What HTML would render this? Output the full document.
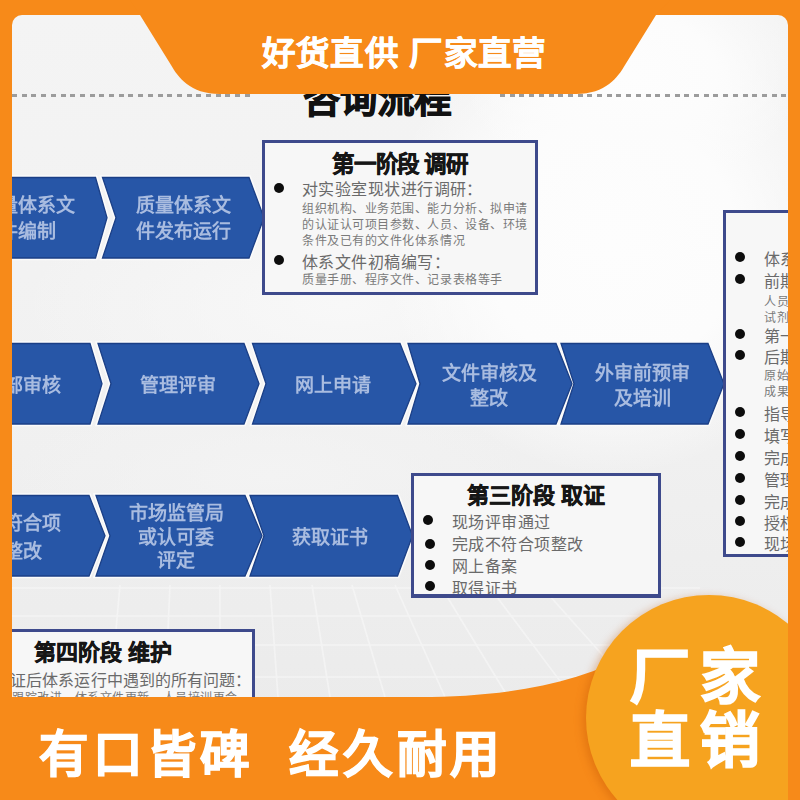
<!DOCTYPE html>
<html lang="zh-CN">
<head>
<meta charset="utf-8">
<style>
html,body{margin:0;padding:0;}
body{width:800px;height:800px;position:relative;overflow:hidden;background:#f78a19;font-family:"Liberation Sans",sans-serif;}
.abs{position:absolute;}
#inner{position:absolute;left:12px;top:15px;width:776px;height:700px;background:radial-gradient(ellipse 170px 120px at 620px 60px,#fdfdfd 0%,#fcfcfc 50%,rgba(252,252,252,0) 100%),radial-gradient(ellipse 230px 230px at 600px 230px,#fdfdfd 0%,#fcfcfc 55%,rgba(250,250,250,0) 100%),radial-gradient(ellipse 320px 130px at 330px 290px,#f8f8f8 0%,rgba(247,247,247,0) 100%),radial-gradient(ellipse 260px 90px at 260px 460px,#f3f3f3 0%,rgba(243,243,243,0) 100%),linear-gradient(180deg,#f4f4f4 0%,#f1f1f1 55%,#ebebeb 100%);border-radius:10px 10px 0 0;overflow:hidden;}
.chev{position:absolute;color:#a9bce0;font-weight:bold;filter:blur(0.5px);font-size:19px;line-height:26px;text-align:center;white-space:nowrap;}
.chev .tx{position:absolute;left:0;right:0;top:50%;transform:translateY(-50%);}
.box{position:absolute;border:3.5px solid #3e4a8c;box-sizing:border-box;background:#f7f7f7;}
.ttl{position:absolute;font-weight:bold;color:#161616;white-space:nowrap;-webkit-text-stroke:0.5px #161616;}
.bl{position:absolute;width:10px;height:10px;border-radius:50%;background:#0d0d0d;}
.t17{position:absolute;font-size:16px;letter-spacing:0.45px;line-height:20px;color:#6a6a6a;white-space:nowrap;}
.t12{position:absolute;font-size:12px;letter-spacing:0.55px;line-height:16px;color:#7a7a7a;white-space:nowrap;}
.wt{color:#fff;-webkit-text-stroke:1.1px #fff;}
</style>
</head>
<body>
<div id="inner"></div>

<svg class="abs" style="left:0;top:0" width="800" height="800" viewBox="0 0 800 800">
<g stroke="#fafafa" stroke-width="1.6" opacity="0.55">
<line x1="12" y1="588" x2="700" y2="588"/><line x1="12" y1="616" x2="700" y2="616"/><line x1="12" y1="645" x2="700" y2="645"/><line x1="12" y1="677" x2="700" y2="677"/>
<line x1="120" y1="585" x2="110" y2="697"/><line x1="170" y1="585" x2="165" y2="697"/><line x1="220" y1="585" x2="220" y2="697"/>
<line x1="270" y1="585" x2="278" y2="697"/><line x1="312" y1="585" x2="330" y2="697"/><line x1="352" y1="585" x2="385" y2="697"/><line x1="395" y1="585" x2="445" y2="697"/><line x1="440" y1="585" x2="508" y2="697"/><line x1="488" y1="585" x2="572" y2="697"/><line x1="540" y1="585" x2="640" y2="697"/>
</g></svg>
<!-- dotted line -->
<div class="abs" style="left:12px;top:94px;width:240px;height:3px;background:repeating-linear-gradient(90deg,#9c9c9c 0 5px,transparent 5px 9.7px);"></div>
<div class="abs" style="left:500px;top:94px;width:288px;height:3px;background:repeating-linear-gradient(90deg,#9c9c9c 0 5px,transparent 5px 9.7px);"></div>

<!-- title -->
<div class="ttl" style="left:303px;top:77px;font-size:37.5px;line-height:44px;color:#111;-webkit-text-stroke:1px #111;">咨询流程</div>

<!-- banner -->
<svg class="abs" style="left:0;top:0" width="800" height="100" viewBox="0 0 800 100">
<path d="M130 0 L140 15 L171 65 C178 77 190 94 220 94 L576 94 C606 94 618 77 625 65 L656 15 L670 0 Z" fill="#f78a19"/>
</svg>
<div class="ttl wt" style="-webkit-text-stroke:0.6px #fff;left:262px;top:33.5px;font-size:33.5px;line-height:40px;letter-spacing:1.2px;">好货直供 厂家直营</div>

<!-- chevron shapes -->
<svg class="abs" style="left:0;top:0" width="800" height="800" viewBox="0 0 800 800">
<polygon points="-55,177.5 95.5,177.5 107,217.75 95.5,258 -55,258 -42,217.75" fill="none" stroke="#fbfbfb" stroke-width="4.5" stroke-linejoin="miter"/>
<polygon points="102.5,177.5 249,177.5 264,217.75 249,258 102.5,258 116,217.75" fill="none" stroke="#fbfbfb" stroke-width="4.5" stroke-linejoin="miter"/>
<polygon points="-59,343.5 90,343.5 102,383.75 90,424 -59,424 -46,383.75" fill="none" stroke="#fbfbfb" stroke-width="4.5" stroke-linejoin="miter"/>
<polygon points="98,343.5 244,343.5 259,383.75 244,424 98,424 111,383.75" fill="none" stroke="#fbfbfb" stroke-width="4.5" stroke-linejoin="miter"/>
<polygon points="252.5,343.5 400,343.5 416,383.75 400,424 252.5,424 266,383.75" fill="none" stroke="#fbfbfb" stroke-width="4.5" stroke-linejoin="miter"/>
<polygon points="408,343.5 556,343.5 572,383.75 556,424 408,424 420,383.75" fill="none" stroke="#fbfbfb" stroke-width="4.5" stroke-linejoin="miter"/>
<polygon points="561,343.5 708,343.5 724,383.75 708,424 561,424 574,383.75" fill="none" stroke="#fbfbfb" stroke-width="4.5" stroke-linejoin="miter"/>
<polygon points="-58,495.5 89,495.5 105,535.75 89,576 -58,576 -45,535.75" fill="none" stroke="#fbfbfb" stroke-width="4.5" stroke-linejoin="miter"/>
<polygon points="96,495.5 245,495.5 262,535.75 245,576 96,576 110,535.75" fill="none" stroke="#fbfbfb" stroke-width="4.5" stroke-linejoin="miter"/>
<polygon points="250,495.5 397.5,495.5 412.5,535.75 397.5,576 250,576 264,535.75" fill="none" stroke="#fbfbfb" stroke-width="4.5" stroke-linejoin="miter"/>
<polygon points="-55,177.5 95.5,177.5 107,217.75 95.5,258 -55,258 -42,217.75" fill="#2756a7" stroke="#1b3f86" stroke-width="1.3"/>
<polygon points="102.5,177.5 249,177.5 264,217.75 249,258 102.5,258 116,217.75" fill="#2756a7" stroke="#1b3f86" stroke-width="1.3"/>
<polygon points="-59,343.5 90,343.5 102,383.75 90,424 -59,424 -46,383.75" fill="#2756a7" stroke="#1b3f86" stroke-width="1.3"/>
<polygon points="98,343.5 244,343.5 259,383.75 244,424 98,424 111,383.75" fill="#2756a7" stroke="#1b3f86" stroke-width="1.3"/>
<polygon points="252.5,343.5 400,343.5 416,383.75 400,424 252.5,424 266,383.75" fill="#2756a7" stroke="#1b3f86" stroke-width="1.3"/>
<polygon points="408,343.5 556,343.5 572,383.75 556,424 408,424 420,383.75" fill="#2756a7" stroke="#1b3f86" stroke-width="1.3"/>
<polygon points="561,343.5 708,343.5 724,383.75 708,424 561,424 574,383.75" fill="#2756a7" stroke="#1b3f86" stroke-width="1.3"/>
<polygon points="-58,495.5 89,495.5 105,535.75 89,576 -58,576 -45,535.75" fill="#2756a7" stroke="#1b3f86" stroke-width="1.3"/>
<polygon points="96,495.5 245,495.5 262,535.75 245,576 96,576 110,535.75" fill="#2756a7" stroke="#1b3f86" stroke-width="1.3"/>
<polygon points="250,495.5 397.5,495.5 412.5,535.75 397.5,576 250,576 264,535.75" fill="#2756a7" stroke="#1b3f86" stroke-width="1.3"/>
</svg>
<!-- row 1 -->
<div class="chev" style="left:-55px;top:177px;width:162px;height:81px;">
  <div class="tx" style="margin-left:3px;margin-top:1px;">质量体系文<br>件编制</div>
</div>
<div class="chev" style="left:102px;top:177px;width:162px;height:81px;">
  <div class="tx" style="margin-left:1px;margin-top:1px;">质量体系文<br>件发布运行</div>
</div>

<!-- box 1 -->
<div class="box" style="left:262px;top:140px;width:276px;height:155px;"></div>
<div class="ttl" style="left:332px;top:149.5px;font-size:22.5px;line-height:30px;letter-spacing:-1.2px;">第一阶段 调研</div>
<div class="bl" style="left:274px;top:183px;"></div>
<div class="t17" style="left:302px;top:180px;">对实验室现状进行调研：</div>
<div class="t12" style="left:302px;top:201px;">组织机构、业务范围、能力分析、拟申请</div>
<div class="t12" style="left:302px;top:217px;">的认证认可项目参数、人员、设备、环境</div>
<div class="t12" style="left:302px;top:233px;">条件及已有的文件化体系情况</div>
<div class="bl" style="left:274px;top:255px;"></div>
<div class="t17" style="left:302px;top:252.5px;">体系文件初稿编写：</div>
<div class="t12" style="left:302px;top:272px;">质量手册、程序文件、记录表格等手</div>

<!-- row 2 -->
<div class="chev" style="left:-59px;top:343.5px;width:161px;height:81px;"><div class="tx" style="margin-left:2px;margin-top:2px;">内部审核</div></div>
<div class="chev" style="left:98px;top:343.5px;width:161px;height:81px;"><div class="tx" style="margin-left:-1px;margin-top:2px;">管理评审</div></div>
<div class="chev" style="left:252px;top:343.5px;width:164px;height:81px;"><div class="tx" style="margin-left:-2px;margin-top:2px;">网上申请</div></div>
<div class="chev" style="left:408px;top:343.5px;width:164px;height:81px;"><div class="tx" style="margin-left:-2px;margin-top:2px;line-height:25px;">文件审核及<br>整改</div></div>
<div class="chev" style="left:561px;top:343.5px;width:163px;height:81px;"><div class="tx" style="margin-left:0px;margin-top:2px;line-height:25px;">外审前预审<br>及培训</div></div>

<!-- right box -->
<div class="box" style="left:723px;top:210px;width:80px;height:347px;"></div>
<div class="bl" style="left:735px;top:252px;"></div><div class="t17" style="left:764px;top:249.5px;">体系文件</div>
<div class="bl" style="left:735px;top:274px;"></div><div class="t17" style="left:764px;top:271.5px;">前期准备</div>
<div class="t12" style="left:764px;top:294.0px;">人员培训</div>
<div class="t12" style="left:764px;top:310.0px;">试剂耗材</div>
<div class="bl" style="left:735px;top:329px;"></div><div class="t17" style="left:764px;top:326.5px;">第一次</div>
<div class="bl" style="left:735px;top:350px;"></div><div class="t17" style="left:764px;top:347.5px;">后期整改</div>
<div class="t12" style="left:764px;top:368.0px;">原始记录</div>
<div class="t12" style="left:764px;top:384.0px;">成果报告</div>
<div class="bl" style="left:735px;top:407px;"></div><div class="t17" style="left:764px;top:404.5px;">指导</div>
<div class="bl" style="left:735px;top:429px;"></div><div class="t17" style="left:764px;top:426.5px;">填写</div>
<div class="bl" style="left:735px;top:451px;"></div><div class="t17" style="left:764px;top:448.5px;">完成</div>
<div class="bl" style="left:735px;top:473px;"></div><div class="t17" style="left:764px;top:470.5px;">管理</div>
<div class="bl" style="left:735px;top:495px;"></div><div class="t17" style="left:764px;top:492.5px;">完成</div>
<div class="bl" style="left:735px;top:516px;"></div><div class="t17" style="left:764px;top:513.5px;">授权</div>
<div class="bl" style="left:735px;top:537px;"></div><div class="t17" style="left:764px;top:534.5px;">现场</div>

<!-- row 3 -->
<div class="chev" style="left:-58px;top:495.5px;width:163px;height:81px;"><div class="tx" style="margin-left:-1px;margin-top:2px;line-height:28px;">不符合项<br>整改</div></div>
<div class="chev" style="left:96px;top:495.5px;width:166px;height:81px;"><div class="tx" style="margin-left:-6px;margin-top:1px;line-height:23.5px;">市场监管局<br>或认可委<br>评定</div></div>
<div class="chev" style="left:250px;top:495.5px;width:163px;height:81px;"><div class="tx" style="margin-left:-3px;margin-top:2px;">获取证书</div></div>

<!-- box 3 -->
<div class="box" style="left:411px;top:473px;width:250px;height:125px;"></div>
<div class="ttl" style="left:467px;top:481px;font-size:22px;line-height:30px;">第三阶段 取证</div>
<div class="bl" style="left:423px;top:515px;"></div><div class="t17" style="left:452px;top:513px;">现场评审通过</div>
<div class="bl" style="left:425px;top:539px;"></div><div class="t17" style="left:452px;top:535px;">完成不符合项整改</div>
<div class="bl" style="left:425px;top:560px;"></div><div class="t17" style="left:452px;top:557px;">网上备案</div>
<div class="bl" style="left:425px;top:581px;"></div><div class="t17" style="left:452px;top:579px;">取得证书</div>
<div class="abs" style="left:411px;top:593.5px;width:250px;height:4.5px;background:#3e4a8c;"></div>

<!-- box 4 -->
<div class="box" style="left:0;top:629px;width:255px;height:100px;"></div>
<div class="ttl" style="left:34px;top:638px;font-size:22px;line-height:30px;">第四阶段 维护</div>
<div class="t17" style="left:-6px;top:671px;font-size:16px;letter-spacing:0.1px;">认证后体系运行中遇到的所有问题：</div>
<div class="t12" style="left:12px;top:690px;">跟踪改进、体系文件更新、人员培训再会</div>

<!-- bottom band -->
<svg class="abs" style="left:0;top:0" width="800" height="800" viewBox="0 0 800 800">
<path d="M0 697 L420 697 C500 697 575 686 640 650 L700 700 L800 700 L800 800 L0 800 Z" fill="#f78a19"/>
<rect x="788" y="0" width="12" height="800" fill="#f78a19"/>
<rect x="0" y="0" width="12" height="800" fill="#f78a19"/>
</svg>
<div class="abs" style="left:586px;top:595px;width:246px;height:246px;border-radius:50%;background:#f6a31f;box-shadow:-3px 2px 8px rgba(190,80,0,0.35);"></div>
<div class="abs" style="left:788px;top:560px;width:12px;height:240px;background:#f78a19;"></div>
<div class="ttl wt" style="left:39px;top:723px;font-size:49.5px;line-height:64px;letter-spacing:4.8px;">有口皆碑</div>
<div class="ttl wt" style="left:289px;top:722.5px;font-size:49.5px;line-height:64px;letter-spacing:4.8px;">经久耐用</div>
<div class="ttl wt" style="left:630px;top:646px;font-size:60px;line-height:64px;letter-spacing:10px;-webkit-text-stroke:1.6px #fff;">厂家<br>直销</div>
</body>
</html>
